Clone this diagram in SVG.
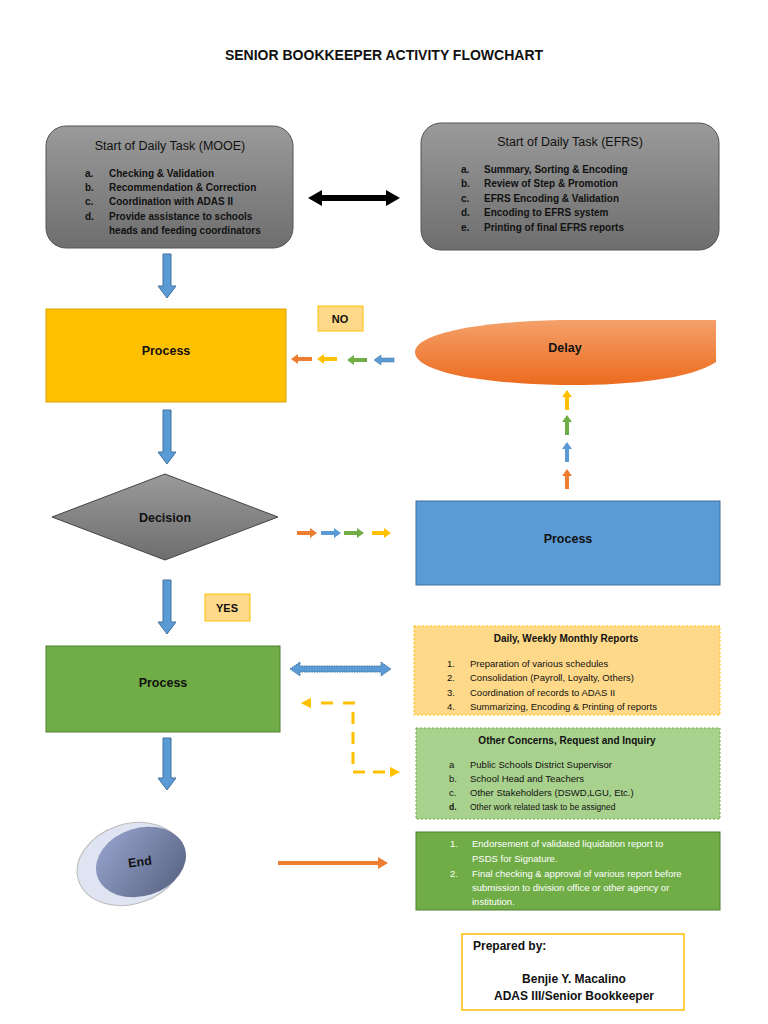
<svg xmlns="http://www.w3.org/2000/svg" width="768" height="1024" viewBox="0 0 768 1024">
<style>
text{font-family:"Liberation Sans",Arial,sans-serif;font-weight:bold;fill:#111}
.t{font-size:10px}
.h{font-size:12.5px;font-weight:normal}
.lbl{font-size:12.5px}
.w{fill:#fff;font-weight:normal;font-size:9.5px}
.s text{font-size:9.5px;font-weight:normal}
</style>
<defs>
<linearGradient id="gr" x1="0" y1="0" x2="0" y2="1"><stop offset="0" stop-color="#9a9a9a"/><stop offset="1" stop-color="#6e6e6e"/></linearGradient>
<linearGradient id="or" x1="0" y1="0" x2="0" y2="1"><stop offset="0" stop-color="#f4a06a"/><stop offset="1" stop-color="#ec6b1e"/></linearGradient>
<linearGradient id="en" x1="0" y1="0" x2="1" y2="1"><stop offset="0" stop-color="#9aa6d0"/><stop offset="1" stop-color="#55607f"/></linearGradient>
<marker id="ya" viewBox="0 0 10 10" refX="5" refY="5" markerWidth="3.5" markerHeight="3.5" orient="auto"><path d="M0,0L10,5L0,10z" fill="#FFC000"/></marker>
</defs>
<rect width="768" height="1024" fill="#fff"/>
<text x="384" y="60" text-anchor="middle" font-size="14">SENIOR BOOKKEEPER ACTIVITY FLOWCHART</text>

<g id="mooe">
<rect x="46" y="126" width="247" height="122" rx="20" fill="url(#gr)" stroke="#555"/>
<text class="h" x="170" y="150" text-anchor="middle">Start of Daily Task (MOOE)</text>
<g class="t"><text x="85" y="177">a.</text><text x="109" y="177">Checking &amp; Validation</text>
<text x="85" y="191">b.</text><text x="109" y="191">Recommendation &amp; Correction</text>
<text x="85" y="205">c.</text><text x="109" y="205">Coordination with ADAS II</text>
<text x="85" y="220">d.</text><text x="109" y="220">Provide assistance to schools</text>
<text x="109" y="234">heads and feeding coordinators</text></g>
</g>
<g id="efrs">
<rect x="421" y="123" width="298" height="127" rx="20" fill="url(#gr)" stroke="#555"/>
<text class="h" x="570" y="146" text-anchor="middle">Start of Daily Task (EFRS)</text>
<g class="t"><text x="461" y="173">a.</text><text x="484" y="173">Summary, Sorting &amp; Encoding</text>
<text x="461" y="187">b.</text><text x="484" y="187">Review of Step &amp; Promotion</text>
<text x="461" y="202">c.</text><text x="484" y="202">EFRS Encoding &amp; Validation</text>
<text x="461" y="216">d.</text><text x="484" y="216">Encoding to EFRS system</text>
<text x="461" y="231">e.</text><text x="484" y="231">Printing of final EFRS reports</text></g>
</g>
<g id="process1"><rect x="46" y="309" width="240" height="93" fill="#FFC000" stroke="#d9a300"/><text class="lbl" x="166" y="355" text-anchor="middle">Process</text></g>
<g id="no"><rect x="318" y="306" width="45" height="25" fill="#FFD98A" stroke="#FFC000"/><text x="340" y="323" text-anchor="middle" font-size="11">NO</text></g>
<g id="delay"><path d="M716,320 L716,362 C690,380 620,386 560,385 C470,383 415,370 415,352 C415,335 470,322 560,320 Z" fill="url(#or)"/><text class="lbl" x="565" y="352" text-anchor="middle">Delay</text></g>
<g id="decision"><path d="M52,517 L165,474 L278,517 L165,560 Z" fill="url(#gr)" stroke="#444"/><text class="lbl" x="165" y="522" text-anchor="middle">Decision</text></g>
<g id="process2"><rect x="416" y="501" width="304" height="84" fill="#5B9BD5" stroke="#41719c"/><text class="lbl" x="568" y="543" text-anchor="middle">Process</text></g>
<g id="yes"><rect x="205" y="594" width="45" height="27" fill="#FFD98A" stroke="#FFC000"/><text x="227" y="612" text-anchor="middle" font-size="11">YES</text></g>
<g id="process3"><rect x="46" y="646" width="234" height="86" fill="#70AD47" stroke="#507e32"/><text class="lbl" x="163" y="687" text-anchor="middle">Process</text></g>
<g id="reports">
<rect x="414" y="626" width="306" height="89" fill="#FFD98A" stroke="#FFC000" stroke-dasharray="2,2"/>
<text x="566" y="642" text-anchor="middle" font-size="10">Daily, Weekly Monthly Reports</text>
<g class="s"><text x="447" y="667">1.</text><text x="470" y="667">Preparation of various schedules</text>
<text x="447" y="681">2.</text><text x="470" y="681">Consolidation (Payroll, Loyalty, Others)</text>
<text x="447" y="696">3.</text><text x="470" y="696">Coordination of records to ADAS II</text>
<text x="447" y="710">4.</text><text x="470" y="710">Summarizing, Encoding &amp; Printing of reports</text></g>
</g>
<g id="concerns">
<rect x="416" y="728" width="304" height="91" fill="#A9D18E" stroke="#70AD47" stroke-dasharray="2,2"/>
<text x="567" y="744" text-anchor="middle" font-size="10">Other Concerns, Request and Inquiry</text>
<g class="s"><text x="449" y="768">a</text><text x="470" y="768">Public Schools District Supervisor</text>
<text x="449" y="782">b.</text><text x="470" y="782">School Head and Teachers</text>
<text x="449" y="796">c.</text><text x="470" y="796">Other Stakeholders (DSWD,LGU, Etc.)</text>
<text x="449" y="810" style="font-weight:bold;font-size:8.5px">d.</text><text x="470" y="810" style="font-size:8.5px">Other work related task to be assigned</text></g>
</g>
<g id="end"><ellipse cx="130" cy="864" rx="54" ry="40" transform="rotate(-18 130 864)" fill="#dfe4f2" stroke="#bbb"/><ellipse cx="141" cy="862" rx="46" ry="34" transform="rotate(-18 141 862)" fill="url(#en)"/><text class="lbl" x="140" y="866" text-anchor="middle" transform="rotate(-8 140 862)">End</text></g>
<g id="final">
<rect x="416" y="832" width="304" height="78" fill="#70AD47" stroke="#507e32"/>
<text class="w" x="450" y="847">1.</text><text class="w" x="472" y="847">Endorsement of validated liquidation report to</text>
<text class="w" x="472" y="862">PSDS for Signature.</text>
<text class="w" x="450" y="877">2.</text><text class="w" x="472" y="877">Final checking &amp; approval of various report before</text>
<text class="w" x="472" y="891">submission to division office or other agency or</text>
<text class="w" x="472" y="905">institution.</text>
</g>
<g id="prepared">
<rect x="462" y="934" width="222" height="76" fill="#fff" stroke="#FFC000" stroke-width="1.5"/>
<text x="473" y="950" font-size="12">Prepared by:</text>
<text x="574" y="983" text-anchor="middle" font-size="12">Benjie Y. Macalino</text>
<text x="574" y="1000" text-anchor="middle" font-size="12">ADAS III/Senior Bookkeeper</text>
</g>
<g id="connectors">
<path d="M308,198 L322,190 L322,195 L386,195 L386,190 L400,198 L386,206 L386,201 L322,201 L322,206 Z" fill="#000"/>
<path d="M163,254 h8 v32 h5 l-9,12 l-9,-12 h5 z" fill="#5B9BD5" stroke="#41719c"/>
<path d="M163,410 h8 v42 h5 l-9,12 l-9,-12 h5 z" fill="#5B9BD5" stroke="#41719c"/>
<path d="M163,580 h8 v42 h5 l-9,12 l-9,-12 h5 z" fill="#5B9BD5" stroke="#41719c"/>
<path d="M163,738 h8 v40 h5 l-9,12 l-9,-12 h5 z" fill="#5B9BD5" stroke="#41719c"/>
<path d="M312,357 h-14 v-3 l-7,5 l7,5 v-3 h14 z" fill="#ED7D31"/>
<path d="M337,357 h-13 v-3 l-7,5 l7,5 v-3 h13 z" fill="#FFC000"/>
<path d="M367,358 h-13 v-3 l-7,5 l7,5 v-3 h13 z" fill="#70AD47"/>
<path d="M394,358 h-13 v-3 l-7,5 l7,5 v-3 h13 z" fill="#5B9BD5" stroke="#41719c" stroke-width="0.5"/>
<path d="M565,410 v-13 h-3 l5,-7 l5,7 h-3 v13 z" fill="#FFC000"/>
<path d="M565,435 v-13 h-3 l5,-7 l5,7 h-3 v13 z" fill="#70AD47"/>
<path d="M565,462 v-13 h-3 l5,-7 l5,7 h-3 v13 z" fill="#5B9BD5"/>
<path d="M565,489 v-13 h-3 l5,-7 l5,7 h-3 v13 z" fill="#ED7D31"/>
<path d="M297,531 h13 v-3 l7,5 l-7,5 v-3 h-13 z" fill="#ED7D31"/>
<path d="M321,531 h13 v-3 l7,5 l-7,5 v-3 h-13 z" fill="#5B9BD5"/>
<path d="M344,531 h13 v-3 l7,5 l-7,5 v-3 h-13 z" fill="#70AD47"/>
<path d="M372,531 h12 v-3 l7,5 l-7,5 v-3 h-12 z" fill="#FFC000"/>
<path d="M290,669 l10,-7 v4 h81 v-4 l10,7 l-10,7 v-4 h-81 v4 z" fill="#5B9BD5" stroke="#41719c" stroke-dasharray="1.5,1"/>
<path d="M355,703 H306" fill="none" stroke="#FFC000" stroke-width="3" stroke-dasharray="12,10" marker-end="url(#ya)"/>
<path d="M353,712 V772 H395" fill="none" stroke="#FFC000" stroke-width="3" stroke-dasharray="12,8" marker-end="url(#ya)"/>
<path d="M278,861 h100 v-4 l10,6 l-10,6 v-4 h-100 z" fill="#ED7D31"/>
</g>
</svg>
